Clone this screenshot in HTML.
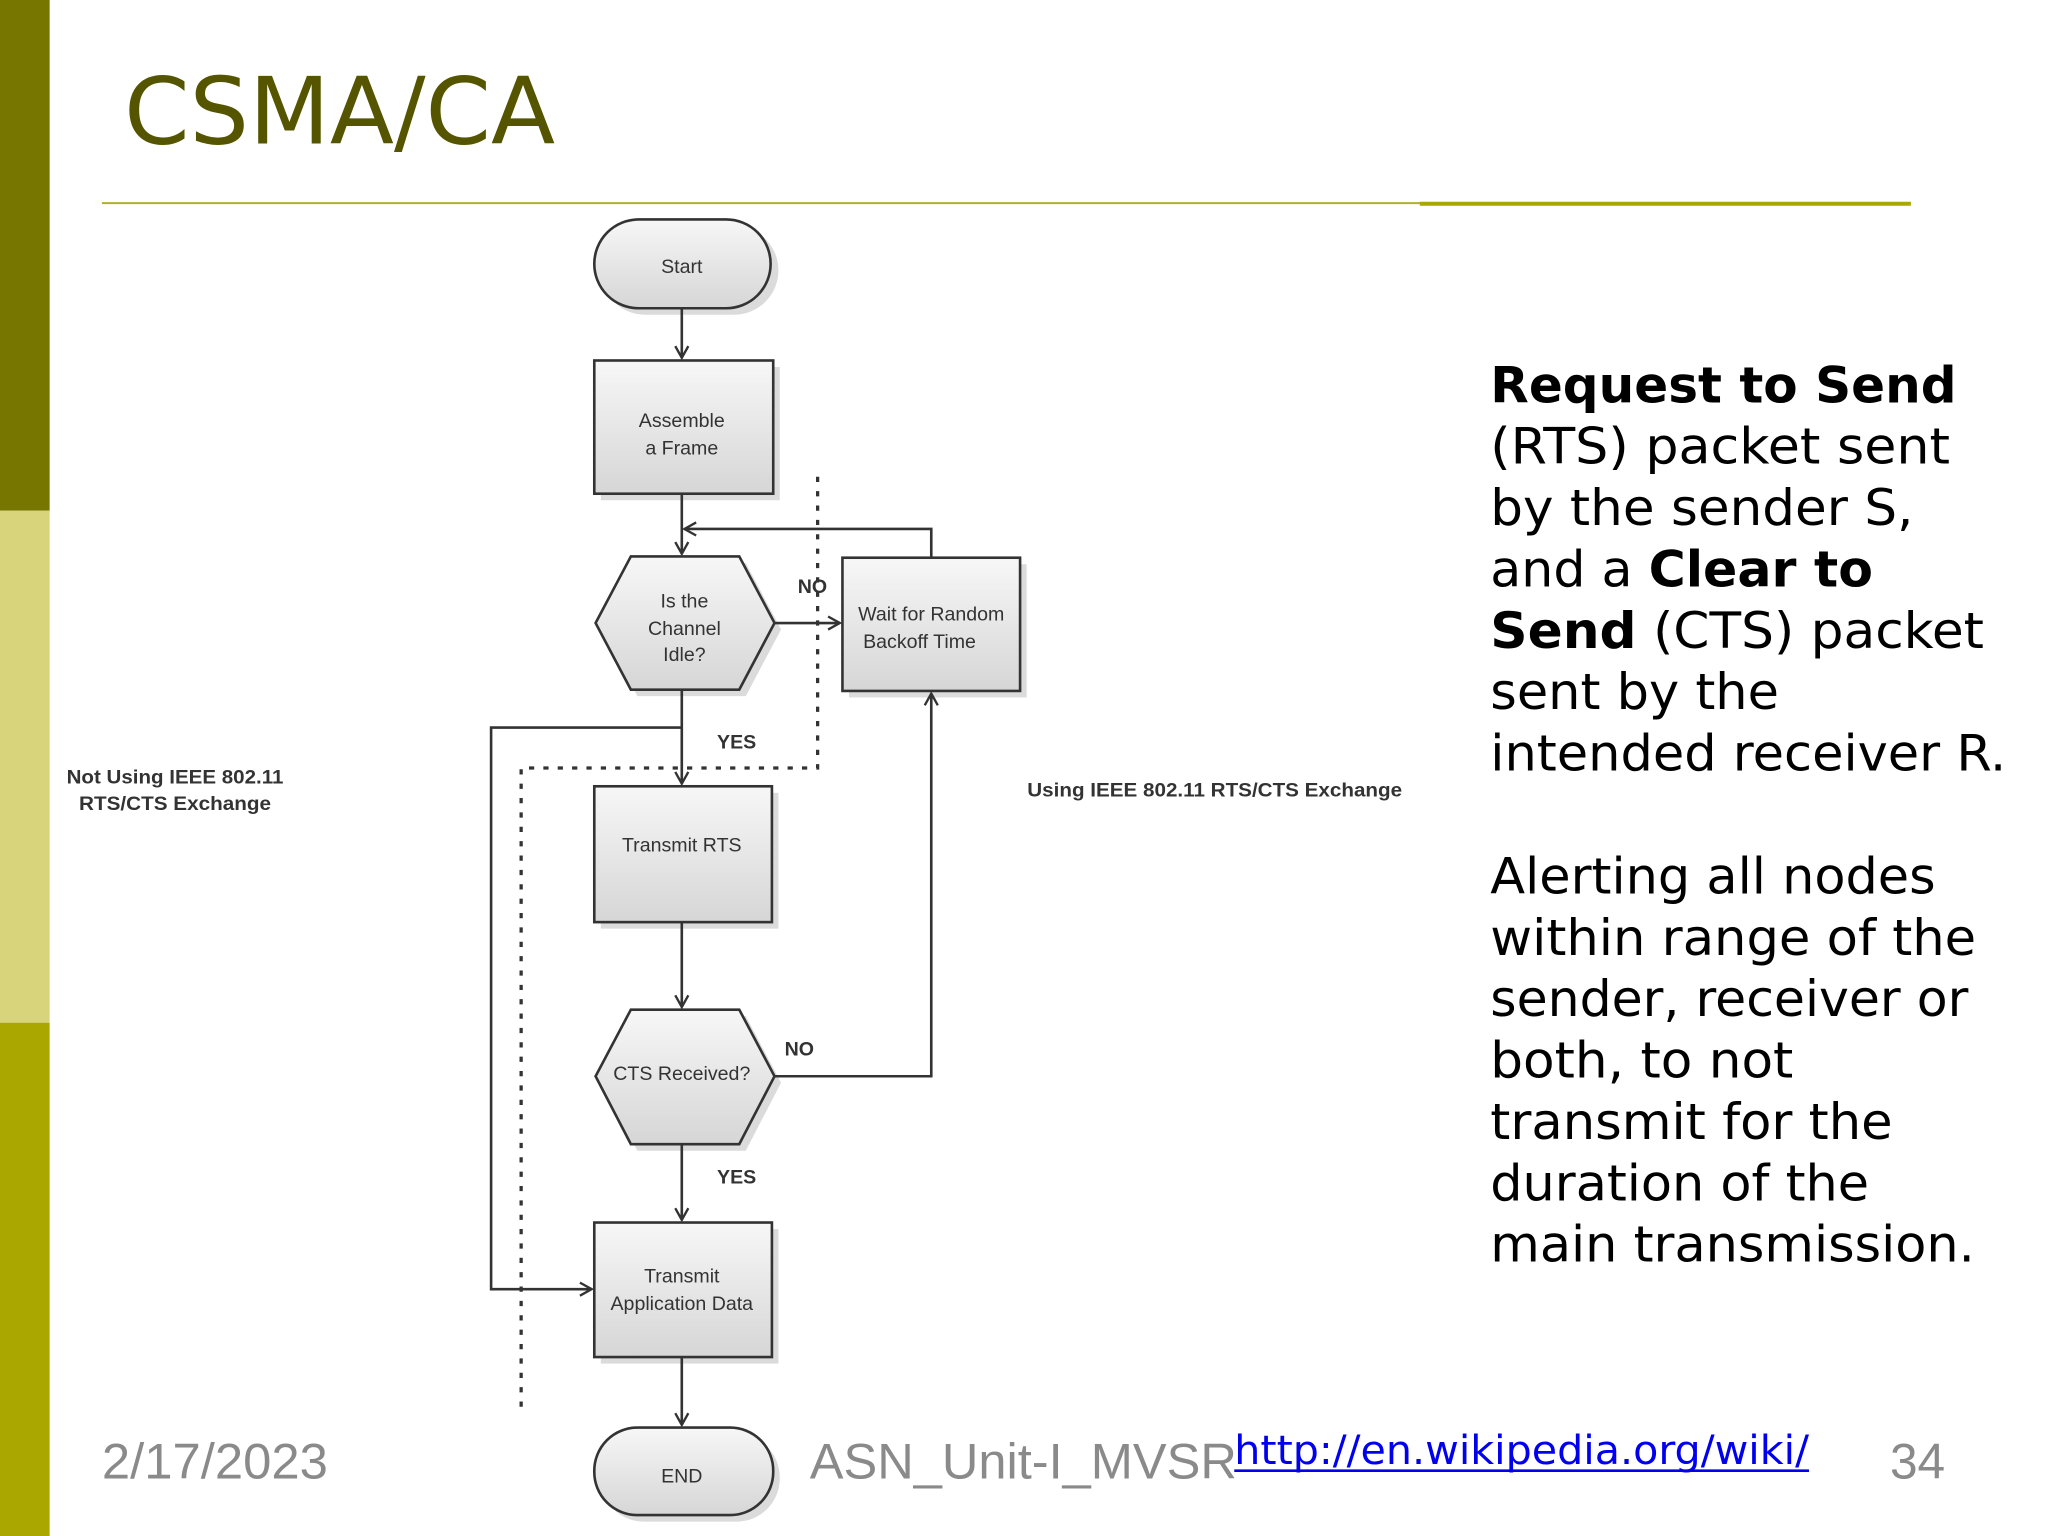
<!DOCTYPE html>
<html><head><meta charset="utf-8"><style>html,body{margin:0;padding:0;background:#fff}svg{display:block}</style></head>
<body>
<svg width="2048" height="1536" viewBox="0 0 1568 1176" xmlns="http://www.w3.org/2000/svg">
<defs>
<linearGradient id="g" x1="0" y1="0" x2="0" y2="1"><stop offset="0" stop-color="#f7f7f7"/><stop offset="1" stop-color="#d6d6d6"/></linearGradient>
<marker id="a" markerWidth="12" markerHeight="12" refX="10" refY="6" orient="auto" markerUnits="userSpaceOnUse"><path d="M1,1 L10,6 L1,11" fill="none" stroke="#333" stroke-width="1.8"/></marker>
</defs>
<rect width="1568" height="1176" fill="#fff"/>
<rect x="0" y="0" width="38" height="391" fill="#767600"/>
<rect x="0" y="391" width="38" height="392" fill="#d8d47c"/>
<rect x="0" y="783" width="38" height="393" fill="#aaa700"/>
<text x="95" y="110" font-family="DejaVu Sans, sans-serif" font-size="71" fill="#555500" textLength="330" lengthAdjust="spacingAndGlyphs">CSMA/CA</text>
<line x1="78" y1="155.5" x2="1463" y2="155.5" stroke="#b0b030" stroke-width="1.5"/>
<line x1="1087" y1="156" x2="1463" y2="156" stroke="#a8a800" stroke-width="3"/>

<g stroke="#333" stroke-width="2" fill="url(#g)">
<g fill="#ccc" stroke="none" opacity="0.7">
<rect x="460" y="173" width="136" height="68" rx="34"/>
<rect x="460" y="281" width="137" height="102"/>
<polygon points="461,482 488,431 571,431 598,482 571,533 488,533"/>
<rect x="650" y="432" width="136" height="102"/>
<rect x="460" y="607" width="136" height="104"/>
<polygon points="461,829 488,778 571,778 598,829 571,881 488,881"/>
<rect x="460" y="941" width="136" height="103"/>
<rect x="460" y="1098" width="137" height="67" rx="33"/>
</g>
<rect x="455" y="168" width="135" height="68" rx="34"/>
<rect x="455" y="276" width="137" height="102"/>
<polygon points="456,477 483,426 566,426 593,477 566,528 483,528"/>
<rect x="645" y="427" width="136" height="102"/>
<rect x="455" y="602" width="136" height="104"/>
<polygon points="456,824 483,773 566,773 593,824 566,876 483,876"/>
<rect x="455" y="936" width="136" height="103"/>
<rect x="455" y="1093" width="137" height="67" rx="33"/>
</g>

<g stroke="#333" stroke-width="2" fill="none">
<line x1="522" y1="236" x2="522" y2="274" marker-end="url(#a)"/>
<line x1="522" y1="378" x2="522" y2="424" marker-end="url(#a)"/>
<polyline points="713,427 713,405 524,405" marker-end="url(#a)"/>
<line x1="593" y1="477" x2="643" y2="477" marker-end="url(#a)"/>
<line x1="522" y1="528" x2="522" y2="600" marker-end="url(#a)"/>
<polyline points="522,557 376,557 376,987 453,987" marker-end="url(#a)"/>
<line x1="522" y1="706" x2="522" y2="771" marker-end="url(#a)"/>
<polyline points="593,824 713,824 713,531" marker-end="url(#a)"/>
<line x1="522" y1="876" x2="522" y2="934" marker-end="url(#a)"/>
<line x1="522" y1="1039" x2="522" y2="1091" marker-end="url(#a)"/>
</g>
<g stroke="#333" stroke-width="2.5" fill="none" stroke-dasharray="4,7">
<polyline points="626,365 626,588 399,588 399,1082"/>
</g>

<g font-family="Liberation Sans, sans-serif" font-size="15" fill="#333" text-anchor="middle">
<text x="522" y="209">Start</text>
<text x="522" y="327">Assemble</text>
<text x="522" y="348">a Frame</text>
<text x="524" y="465">Is the</text>
<text x="524" y="486">Channel</text>
<text x="524" y="506">Idle?</text>
<text x="713" y="475">Wait for Random</text>
<text x="704" y="496">Backoff Time</text>
<text x="522" y="652">Transmit RTS</text>
<text x="522" y="827">CTS Received?</text>
<text x="522" y="982">Transmit</text>
<text x="522" y="1003">Application Data</text>
<text x="522" y="1135">END</text>
<g font-weight="bold" font-size="15">
<text x="622" y="454">NO</text>
<text x="564" y="573">YES</text>
<text x="612" y="808">NO</text>
<text x="564" y="906">YES</text>
<text x="134" y="600" textLength="166" lengthAdjust="spacingAndGlyphs">Not Using IEEE 802.11</text>
<text x="134" y="620" textLength="147" lengthAdjust="spacingAndGlyphs">RTS/CTS Exchange</text>
<text x="930" y="610" textLength="287" lengthAdjust="spacingAndGlyphs">Using IEEE 802.11 RTS/CTS Exchange</text>
</g>
</g>

<g font-family="DejaVu Sans, sans-serif" font-size="38" fill="#000">
<text x="1141" y="308" font-weight="bold" textLength="357" lengthAdjust="spacingAndGlyphs">Request to Send</text>
<text x="1141" y="355" textLength="352" lengthAdjust="spacingAndGlyphs">(RTS) packet sent</text>
<text x="1141" y="402" textLength="324" lengthAdjust="spacingAndGlyphs">by the sender S,</text>
<text x="1141" y="449" textLength="293" lengthAdjust="spacingAndGlyphs">and a <tspan font-weight="bold">Clear to</tspan></text>
<text x="1141" y="496" textLength="378" lengthAdjust="spacingAndGlyphs"><tspan font-weight="bold">Send</tspan> (CTS) packet</text>
<text x="1141" y="543" textLength="221" lengthAdjust="spacingAndGlyphs">sent by the</text>
<text x="1141" y="590" textLength="395" lengthAdjust="spacingAndGlyphs">intended receiver R.</text>
<text x="1141" y="684" textLength="341" lengthAdjust="spacingAndGlyphs">Alerting all nodes</text>
<text x="1141" y="731" textLength="372" lengthAdjust="spacingAndGlyphs">within range of the</text>
<text x="1141" y="778" textLength="366" lengthAdjust="spacingAndGlyphs">sender, receiver or</text>
<text x="1141" y="825" textLength="232" lengthAdjust="spacingAndGlyphs">both, to not</text>
<text x="1141" y="872" textLength="308" lengthAdjust="spacingAndGlyphs">transmit for the</text>
<text x="1141" y="919" textLength="290" lengthAdjust="spacingAndGlyphs">duration of the</text>
<text x="1141" y="966" textLength="371" lengthAdjust="spacingAndGlyphs">main transmission.</text>
</g>

<g font-family="Liberation Sans, sans-serif" font-size="38" fill="#8a8a8a">
<text x="78" y="1132" textLength="173" lengthAdjust="spacingAndGlyphs">2/17/2023</text>
<text x="620" y="1132" textLength="327" lengthAdjust="spacingAndGlyphs">ASN_Unit-I_MVSR</text>
<text x="1447" y="1132">34</text>
</g>
<text x="945" y="1121" font-family="DejaVu Sans, sans-serif" font-size="31" fill="#0000ee" textLength="440" lengthAdjust="spacingAndGlyphs">http://en.wikipedia.org/wiki/</text>
<line x1="945" y1="1126" x2="1385" y2="1126" stroke="#0000ee" stroke-width="2"/>
</svg>
</body></html>
